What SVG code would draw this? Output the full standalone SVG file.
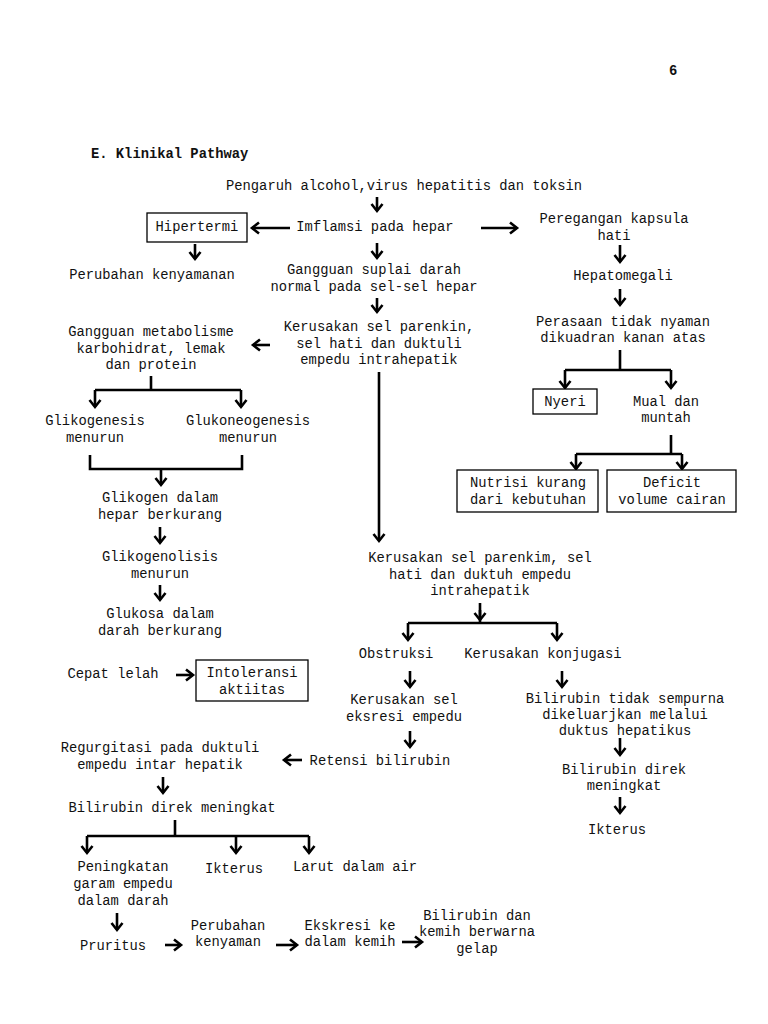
<svg xmlns="http://www.w3.org/2000/svg" width="768" height="1024" viewBox="0 0 768 1024">
<defs>
<marker id="ah" markerUnits="userSpaceOnUse" markerWidth="16" markerHeight="16" viewBox="-10 -8 12 16" refX="0" refY="0" orient="auto">
<path d="M-7,-5.5 L0,0 L-7,5.5" fill="none" stroke="#000" stroke-width="2.6"/>
</marker>
</defs>
<style>
text{font-family:"Liberation Mono","DejaVu Sans Mono",monospace;font-size:13.8px;fill:#111;text-anchor:middle}
.b{font-weight:bold;text-anchor:start}
.box{fill:#fff;stroke:#000;stroke-width:1.3}
#connectors line,#connectors path{stroke:#000;stroke-width:2.6;fill:none}
.a{marker-end:url(#ah)}
</style>
<rect width="768" height="1024" fill="#fff"/>
<text class="b" x="669" y="75">6</text>
<text class="b" x="91" y="158">E. Klinikal Pathway</text>
<g id="connectors">
<line class="a" x1="377" y1="197" x2="377" y2="211"/>
<line class="a" x1="290" y1="228" x2="252" y2="228"/>
<line class="a" x1="481" y1="228" x2="517" y2="228"/>
<line class="a" x1="195" y1="244" x2="195" y2="259"/>
<line class="a" x1="377" y1="243" x2="377" y2="258"/>
<line class="a" x1="377" y1="298" x2="377" y2="312"/>
<line class="a" x1="270" y1="345" x2="253" y2="345"/>
<path d="M151,376 V390 M95,390 H241"/>
<line class="a" x1="95" y1="390" x2="95" y2="407"/>
<line class="a" x1="241" y1="390" x2="241" y2="407"/>
<path d="M90,455 V469 H242 V455"/>
<line class="a" x1="161" y1="469" x2="161" y2="485"/>
<line class="a" x1="160" y1="527" x2="160" y2="543"/>
<line class="a" x1="160" y1="585" x2="160" y2="600"/>
<line class="a" x1="176" y1="675" x2="193" y2="675"/>
<line class="a" x1="379" y1="372" x2="379" y2="541"/>
<path d="M480,603 V623 M408,623 H557"/>
<line class="a" x1="480" y1="610" x2="480" y2="620"/>
<line class="a" x1="408" y1="623" x2="408" y2="640"/>
<line class="a" x1="557" y1="623" x2="557" y2="640"/>
<line class="a" x1="410" y1="671" x2="410" y2="687"/>
<line class="a" x1="562" y1="671" x2="562" y2="687"/>
<line class="a" x1="410" y1="731" x2="410" y2="747"/>
<line class="a" x1="302" y1="760" x2="284" y2="760"/>
<line class="a" x1="163" y1="777" x2="163" y2="793"/>
<path d="M175,820 V836 M87,836 H309"/>
<line class="a" x1="87" y1="836" x2="87" y2="853"/>
<line class="a" x1="236" y1="836" x2="236" y2="853"/>
<line class="a" x1="309" y1="836" x2="309" y2="853"/>
<line class="a" x1="117" y1="913" x2="117" y2="930"/>
<line class="a" x1="165" y1="945" x2="181" y2="945"/>
<line class="a" x1="276" y1="945" x2="297" y2="945"/>
<line class="a" x1="402" y1="942" x2="422" y2="942"/>
<line class="a" x1="620" y1="245" x2="620" y2="262"/>
<line class="a" x1="620" y1="289" x2="620" y2="305"/>
<path d="M620,350 V370 M565,370 H671"/>
<line class="a" x1="565" y1="370" x2="565" y2="388"/>
<line class="a" x1="671" y1="370" x2="671" y2="388"/>
<path d="M671,435 V454 M576,454 H682"/>
<line class="a" x1="576" y1="454" x2="576" y2="469"/>
<line class="a" x1="682" y1="454" x2="682" y2="469"/>
<line class="a" x1="620" y1="738" x2="620" y2="755"/>
<line class="a" x1="620" y1="797" x2="620" y2="813"/>
</g>
<g id="n1"><text x="404" y="190">Pengaruh alcohol,virus hepatitis dan toksin</text></g>
<g id="n2"><rect class="box" x="147" y="213" width="100" height="29"/><text x="197" y="231">Hipertermi</text></g>
<g id="n3"><text x="375" y="231">Imflamsi pada hepar</text></g>
<g id="n4"><text x="614" y="223">Peregangan kapsula</text><text x="614" y="240">hati</text></g>
<g id="n5"><text x="152" y="279">Perubahan kenyamanan</text></g>
<g id="n6"><text x="374" y="274">Gangguan suplai darah</text><text x="374" y="291">normal pada sel-sel hepar</text></g>
<g id="n7"><text x="379" y="331">Kerusakan sel parenkin,</text><text x="379" y="348">sel hati dan duktuli</text><text x="379" y="364">empedu intrahepatik</text></g>
<g id="n8"><text x="151" y="336">Gangguan metabolisme</text><text x="151" y="353">karbohidrat, lemak</text><text x="151" y="369">dan protein</text></g>
<g id="n9"><text x="95" y="425">Glikogenesis</text><text x="95" y="442">menurun</text></g>
<g id="n10"><text x="248" y="425">Glukoneogenesis</text><text x="248" y="442">menurun</text></g>
<g id="n11"><text x="160" y="502">Glikogen dalam</text><text x="160" y="519">hepar berkurang</text></g>
<g id="n12"><text x="160" y="561">Glikogenolisis</text><text x="160" y="578">menurun</text></g>
<g id="n13"><text x="160" y="618">Glukosa dalam</text><text x="160" y="635">darah berkurang</text></g>
<g id="n14"><text x="113" y="678">Cepat lelah</text></g>
<g id="n15"><rect class="box" x="196" y="660" width="112" height="41"/><text x="252" y="677">Intoleransi</text><text x="252" y="694">aktiitas</text></g>
<g id="n16"><text x="480" y="562">Kerusakan sel parenkim, sel</text><text x="480" y="579">hati dan duktuh empedu</text><text x="480" y="595">intrahepatik</text></g>
<g id="n17"><text x="396" y="658">Obstruksi</text></g>
<g id="n18"><text x="543" y="658">Kerusakan konjugasi</text></g>
<g id="n19"><text x="404" y="704">Kerusakan sel</text><text x="404" y="721">eksresi empedu</text></g>
<g id="n20"><text x="380" y="765">Retensi bilirubin</text></g>
<g id="n21"><text x="160" y="752">Regurgitasi pada duktuli</text><text x="160" y="769">empedu intar hepatik</text></g>
<g id="n22"><text x="172" y="812">Bilirubin direk meningkat</text></g>
<g id="n23"><text x="123" y="871">Peningkatan</text><text x="123" y="888">garam empedu</text><text x="123" y="905">dalam darah</text></g>
<g id="n24"><text x="234" y="873">Ikterus</text></g>
<g id="n25"><text x="355" y="871">Larut dalam air</text></g>
<g id="n26"><text x="113" y="950">Pruritus</text></g>
<g id="n27"><text x="228" y="930">Perubahan</text><text x="228" y="946">kenyaman</text></g>
<g id="n28"><text x="350" y="930">Ekskresi ke</text><text x="350" y="946">dalam kemih</text></g>
<g id="n29"><text x="477" y="920">Bilirubin dan</text><text x="477" y="936">kemih berwarna</text><text x="477" y="953">gelap</text></g>
<g id="n30"><text x="623" y="280">Hepatomegali</text></g>
<g id="n31"><text x="623" y="326">Perasaan tidak nyaman</text><text x="623" y="342">dikuadran kanan atas</text></g>
<g id="n32"><rect class="box" x="533" y="389" width="64" height="25"/><text x="565" y="406">Nyeri</text></g>
<g id="n33"><text x="666" y="406">Mual dan</text><text x="666" y="422">muntah</text></g>
<g id="n34"><rect class="box" x="457" y="470" width="141" height="42"/><text x="528" y="487">Nutrisi kurang</text><text x="528" y="504">dari kebutuhan</text></g>
<g id="n35"><rect class="box" x="607" y="470" width="129" height="42"/><text x="672" y="487">Deficit</text><text x="672" y="504">volume cairan</text></g>
<g id="n36"><text x="625" y="703">Bilirubin tidak sempurna</text><text x="625" y="719">dikeluarjkan melalui</text><text x="625" y="735">duktus hepatikus</text></g>
<g id="n37"><text x="624" y="774">Bilirubin direk</text><text x="624" y="790">meningkat</text></g>
<g id="n38"><text x="617" y="834">Ikterus</text></g>
</svg>
